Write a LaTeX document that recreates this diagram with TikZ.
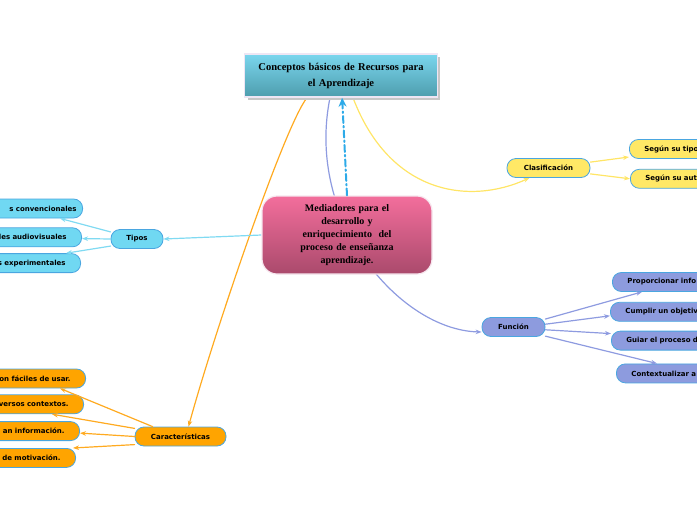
\documentclass[tikz,border=0pt]{standalone}
\usepackage{fontspec}
\setmainfont{Liberation Serif}
\setsansfont{DejaVu Sans}
\usetikzlibrary{%
  arrows.meta,%
  positioning,% wg. " of "
  shadows,%
  backgrounds%
}
\definecolor{titletop}{HTML}{7AD6EE}
\definecolor{titlebot}{HTML}{4E9DAD}
\definecolor{titleline}{HTML}{EEE6F4}
\definecolor{midtop}{HTML}{F36E9C}
\definecolor{midbot}{HTML}{AA4A6C}
\definecolor{midline}{HTML}{F6E6EE}
\definecolor{leafborder}{HTML}{4AA6E0}
\definecolor{cyanfill}{HTML}{70D8F2}
\definecolor{cyanline}{HTML}{80DAF2}
\definecolor{orangefill}{HTML}{FFA400}
\definecolor{orangeline}{HTML}{FFAA20}
\definecolor{yellowfill}{HTML}{FFE866}
\definecolor{yellowline}{HTML}{FFE566}
\definecolor{lavfill}{HTML}{8D9BDE}
\definecolor{lavline}{HTML}{8E9BE0}
\definecolor{relline}{HTML}{2DAAE8}

\begin{document}
\begin{tikzpicture}[
    x=1pt,y=-1pt,
    >={Stealth[length=6pt,width=4.5pt]},
    line cap=round,
    leaf/.style={rectangle,draw=leafborder,line width=0.8pt,rounded corners=9pt,
        minimum height=19pt,inner ysep=0pt,
        font=\sffamily\bfseries\fontsize{7}{8}\selectfont},
    leftleaf/.style={leaf,anchor=east,text width=150pt,align=right,inner xsep=15pt},
    rightleaf/.style={leaf,anchor=west,text width=150pt,align=left,inner xsep=15pt},
    branch/.style={leaf,minimum width=#1,inner xsep=0pt},
    link/.style={->,line width=1.2pt}
  ]

    \useasboundingbox (0,0) rectangle (697,520);

    \node (title) [draw=titleline,line width=1.5pt,top color=titletop,bottom color=titlebot,
        minimum width=190pt,minimum height=43pt,text width=186pt,align=center,
        drop shadow={shadow xshift=3pt,shadow yshift=-3pt,fill=black!22,opacity=1},
        font=\bfseries\fontsize{10.5}{16}\selectfont] at (341,75.5)
        {Conceptos básicos de Recursos para\\ el Aprendizaje};

    \node (mid) [draw=midline,line width=1.2pt,top color=midtop,bottom color=midbot,
        rounded corners=15pt,minimum width=170pt,minimum height=78pt,
        text width=150pt,align=center,
        font=\bfseries\fontsize{10}{13}\selectfont] at (347,235)
        {Mediadores para el\\ desarrollo y\\ enriquecimiento~ del\\ proceso de enseñanza\\ aprendizaje.};

    % Tipos
    \node (tipos) [branch=52pt,fill=cyanfill] at (137,239) {Tipos};
    \node (tc1) [leftleaf,fill=cyanfill,inner xsep=6pt] at (83,208.5) {s convencionales};
    \node (tc2) [leftleaf,fill=cyanfill,below=9pt of tc1.south east,anchor=north east,xshift=-1pt] {les audiovisuales};
    \node (tc3) [leftleaf,fill=cyanfill,below=6pt of tc2.south east,anchor=north east,xshift=-1pt] {s experimentales};

    % Caracteristicas
    \node (chr) [branch=91pt,fill=orangefill] at (180.5,436.5) {Características};
    \node (cc1) [leftleaf,fill=orangefill] at (86,378.5) {on fáciles de usar.};
    \node (cc2) [leftleaf,fill=orangefill,below=6pt of cc1.south east,anchor=north east,xshift=-2pt] {versos contextos.};
    \node (cc3) [leftleaf,fill=orangefill,below=7pt of cc2.south east,anchor=north east,xshift=-4pt] {an información.};
    \node (cc4) [leftleaf,fill=orangefill,below=7pt of cc3.south east,anchor=north east,xshift=-4pt] {de motivación.};

    % Clasificacion
    \node (cls) [branch=83pt,fill=yellowfill] at (548.5,168) {Clasificación};
    \node (cs1) [rightleaf,fill=yellowfill] at (629,149) {Según su tipo};
    \node (cs2) [rightleaf,fill=yellowfill,below=10pt of cs1.south west,anchor=north west,xshift=1pt] {Según su aut};

    % Funcion
    \node (fn) [branch=63pt,fill=lavfill] at (513.5,327) {Función};
    \node (fs1) [rightleaf,fill=lavfill] at (612,282) {Proporcionar info};
    \node (fs2) [rightleaf,fill=lavfill,below=10pt of fs1.south west,anchor=north west,xshift=-2pt] {Cumplir un objetiv};
    \node (fs3) [rightleaf,fill=lavfill,below=9pt of fs2.south west,anchor=north west,xshift=1pt] {Guiar el proceso d};
    \node (fs4) [rightleaf,fill=lavfill,below=13pt of fs3.south west,anchor=north west,xshift=5pt] {Contextualizar a};

    \begin{scope}[on background layer]
     \draw [link,orangeline] ([xshift=-34pt]title.south) .. controls (285,125) and (215,330) .. ([xshift=8pt]chr.north);
     \draw [link,lavline] ([xshift=-11pt]title.south) .. controls (305,220) and (400,330) .. ([yshift=-5pt]fn.west);
     \draw [link,yellowline] ([xshift=12pt]title.south) .. controls (390,195) and (470,205) .. ([xshift=-19pt]cls.south);
     \draw [link,cyanline] (mid.west) -- (tipos.east);
    \end{scope}

    \draw [relline,line width=2pt,dash pattern=on 7pt off 3pt on 1.5pt off 3pt,
        -{Stealth[length=9pt,width=8pt]}] (mid.north) -- (title);

    \begin{scope}[link]
     \draw [cyanline] (tipos.165) -- ([xshift=-23pt]tc1.south east);
     \draw [cyanline] (tipos.west) -- (tc2);
     \draw [cyanline] (tipos.195) -- ([xshift=-15pt]tc3.north east);

     \draw [orangeline] ([xshift=18pt]chr.north west) -- ([xshift=-26pt]cc1.south east);
     \draw [orangeline] (chr.170) -- ([xshift=-32pt]cc2.south east);
     \draw [orangeline] (chr.west) -- ([yshift=-2pt]cc3.east);
     \draw [orangeline] (chr.190) -- ([xshift=-3pt]cc4.north east);

     \draw [yellowline] (cls.8) -- ([yshift=-8pt]cs1.west);
     \draw [yellowline] (cls.-8) -- (cs2.west);

     \draw [lavline] (fn.14) -- ([xshift=30pt]fs1.south west);
     \draw [lavline] (fn.5) -- ([yshift=-4pt]fs2.west);
     \draw [lavline] (fn.-5) -- ([yshift=7pt]fs3.west);
     \draw [lavline] (fn.-16) -- ([xshift=41pt]fs4.north west);
    \end{scope}
\end{tikzpicture}
\end{document}
